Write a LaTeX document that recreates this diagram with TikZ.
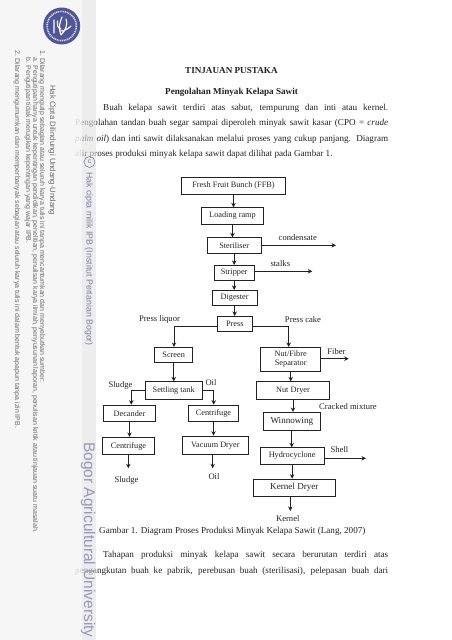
\documentclass[tikz,border=0pt]{standalone}
\usepackage{fontspec}
\setmainfont{Liberation Serif}
\setsansfont{Liberation Sans}
\usetikzlibrary{arrows.meta}
\definecolor{panel}{HTML}{F5F5F5}
\definecolor{band}{HTML}{E2E2E2}
\definecolor{wm}{HTML}{7F7FA5}
\definecolor{wmt}{HTML}{6A6A6A}
\definecolor{ink}{HTML}{222222}
\definecolor{logoc}{HTML}{4F5596}
\tikzset{
 x=1pt,y=-1pt,
 flow/.style={draw=ink,line width=.7pt,inner sep=0pt,text=ink,font=\fontsize{8.25}{9}\selectfont,align=center},
 big/.style={font=\fontsize{9.1}{10}\selectfont},
 lab/.style={inner sep=0pt,text=ink,font=\fontsize{8.6}{10}\selectfont},
 arr/.style={draw=ink,line width=.7pt,-{Stealth[length=4.5pt,width=4.5pt]}},
 body/.style={inner sep=0pt,anchor=base west,text=ink,font=\fontsize{9.13}{11}\selectfont},
 sidet/.style={inner sep=0pt,anchor=base west,rotate=-90,text=wmt,font=\sffamily\fontsize{7}{8}\selectfont},
}
\newcommand{\flowbox}[6][]{\node[flow,#1,minimum width=#4-#3,minimum height=#6-#5] (#2) at ({(#3+#4)/2},{(#5+#6)/2})}
\begin{document}
\begin{tikzpicture}
\useasboundingbox (0,0) rectangle (452,640);
\fill[white] (0,0) rectangle (452,640);
% body text
\node[body,font=\bfseries\fontsize{9.13}{11}\selectfont] (t1) at (185,73) {TINJAUAN PUSTAKA};
\node[body,font=\bfseries\fontsize{9.13}{11}\selectfont] (t2) at (165,94) {Pengolahan Minyak Kelapa Sawit};
\node[body] (l1) at (103,110) {\makebox[285pt][s]{Buah kelapa sawit terdiri atas sabut, tempurung dan inti atau kernel.}};
\node[body] (l2) at (75,125.5) {\makebox[313pt][s]{Pengolahan tandan buah segar sampai diperoleh minyak sawit kasar (CPO = \textit{crude}}};
\node[body] (l3) at (75,141) {\makebox[313pt][s]{\textit{palm oil}) dan inti sawit dilaksanakan melalui proses yang cukup panjang. Diagram}};
\node[body] (l4) at (75,156.5) {alir proses produksi minyak kelapa sawit dapat dilihat pada Gambar 1.};
\node[body] (cap) at (99,533) {Gambar 1. Diagram Proses Produksi Minyak Kelapa Sawit (Lang, 2007)};
\node[body] (l5) at (103,557) {\makebox[285pt][s]{Tahapan produksi minyak kelapa sawit secara berurutan terdiri atas}};
\node[body] (l6) at (75,573) {\makebox[313pt][s]{pengangkutan buah ke pabrik, perebusan buah (sterilisasi), pelepasan buah dari}};
% side panel
\fill[panel,opacity=.85] (0,0) rectangle (82,640);
\fill[band,opacity=.6] (82,0) rectangle (96,640);
% logo
\fill[logoc] (61.7,26) circle (18.5);
\draw[white!80!logoc,line width=1.6pt,dash pattern=on 1pt off .8pt] (61.7,26) circle (14.6);
\draw[white,line width=1.1pt,line cap=round] (54,33) -- (54,20) (61,35) .. controls (58,27) and (60,22) .. (62,17) (61,35) .. controls (66,30) and (68,24) .. (66,19) (61,31) .. controls (64,31) and (68,29) .. (71,26) (61,29) .. controls (57,28) and (57,24) .. (57.5,21);
% side text
\node[sidet,font=\sffamily\fontsize{7.8}{9}\selectfont] (s0) at (50,85) {Hak Cipta Dilindungi Undang-Undang};
\node[sidet] (s1) at (40,50) {1. Dilarang mengutip sebagian atau seluruh karya tulis ini tanpa mencantumkan dan menyebutkan sumber:};
\node[sidet] (s2) at (33,57) {a. Pengutipan hanya untuk kepentingan pendidikan, penelitian, penulisan karya ilmiah, penyusunan laporan, penulisan kritik atau tinjauan suatu masalah.};
\node[sidet] (s3) at (26,57) {b. Pengutipan tidak merugikan kepentingan yang wajar IPB.};
\node[sidet] (s4) at (15,50) {2. Dilarang mengumumkan dan memperbanyak sebagian atau seluruh karya tulis ini dalam bentuk apapun tanpa izin IPB.};
\node[draw=wm,circle,line width=.6pt,minimum size=11pt,inner sep=0pt,text=wm,font=\sffamily\fontsize{7}{8}\selectfont] (cc) at (89.5,162) {c};
\node[sidet,text=wm,font=\sffamily\fontsize{8.8}{10}\selectfont] (s5) at (86.5,172) {Hak cipta milik IPB (Institut Pertanian Bogor)};
\node[sidet,text=wm!80!white,font=\sffamily\fontsize{15.5}{17}\selectfont] (s6) at (84,442) {Bogor Agricultural University};
% boxes
\flowbox{ffb}{181.7}{285.3}{177.3}{194.3} {Fresh Fruit Bunch (FFB)};
\flowbox{load}{201.7}{263.3}{207.7}{224.3} {Loading ramp};
\flowbox{ster}{207.3}{261}{237.7}{253} {Steriliser};
\flowbox{strip}{214}{254.3}{265.3}{280.3} {Stripper};
\flowbox{dig}{212.3}{257}{290.3}{305.7} {Digester};
\flowbox{press}{217}{252.7}{316.3}{331.7} {Press};
\flowbox{screen}{154.7}{192.7}{347.3}{362.7} {Screen};
\flowbox{nut}{260.7}{320.7}{347.3}{371} {Nut/Fibre\\[-.5pt]Separator};
\flowbox{settle}{145.3}{202}{381.7}{399.3} {Settling tank};
\flowbox{nutd}{256.7}{329.3}{381.7}{399.3} {Nut Dryer};
\flowbox{dec}{103.7}{155.3}{405}{421.7} {Decander};
\flowbox{cenr}{188.3}{238.7}{405}{421.7} {Centrifuge};
\flowbox[big]{win}{263.3}{320.3}{412.3}{430.7} {Winnowing};
\flowbox{cenl}{102.3}{154.7}{437.3}{454.7} {Centrifuge};
\flowbox{vac}{182}{248.7}{436}{454.7} {Vacuum Dryer};
\flowbox{hyd}{260.3}{324}{447.7}{464.3} {Hydrocyclone};
\flowbox[big]{ker}{253.7}{335}{479}{496.3} {Kernel Dryer};
% labels
\node[lab] (lcond) at (297.8,237.7) {condensate};
\node[lab] (lstalk) at (280.3,264) {stalks};
\node[lab] (lliq) at (159.5,319) {Press liquor};
\node[lab] (lcake) at (303,320) {Press cake};
\node[lab] (lfib) at (336.5,352) {Fiber};
\node[lab] (lsl1) at (120.5,385.7) {Sludge};
\node[lab] (loil1) at (211,383) {Oil};
\node[lab] (lcrack) at (348,407) {Cracked mixture};
\node[lab] (lshell) at (339.5,450) {Shell};
\node[lab] (lsl2) at (126.5,480) {Sludge};
\node[lab] (loil2) at (214,476.7) {Oil};
\node[lab] (lker) at (287.8,519) {Kernel};
% free ends
\coordinate (econd) at (336,245.3);
\coordinate (estalk) at (312.3,271.3);
\coordinate (efib) at (348.7,358.7);
\coordinate (eshell) at (366,458.3);
\coordinate (esl) at (128.3,468.3);
\coordinate (eoil) at (212.7,468.3);
\coordinate (eker) at (290.3,511);
\coordinate (pl) at (174,326.7);
\coordinate (pr) at (288.7,326.7);
\coordinate (sl) at (131.3,390.3);
\coordinate (sr) at (213.7,390.3);
% connectors
\draw[arr] (ffb.south) -- (ffb.south |- load.north);
\draw[arr] (load.south) -- (load.south |- ster.north);
\draw[arr] (ster.south) -- (ster.south |- strip.north);
\draw[arr] (strip.south) -- (strip.south |- dig.north);
\draw[arr] (dig.south) -- (dig.south |- press.north);
\draw[arr] (ster.east |- econd) -- (econd);
\draw[arr] (strip.east |- estalk) -- (estalk);
\draw[arr] (press.west |- pl) -- (pl) -- (pl |- screen.north);
\draw[arr] (press.east |- pr) -- (pr) -- (pr |- nut.north);
\draw[arr] (screen.south) -- (screen.south |- settle.north);
\draw[arr] (settle.west |- sl) -- (sl) -- (sl |- dec.north);
\draw[arr] (settle.east |- sr) -- (sr) -- (sr |- cenr.north);
\draw[arr] (dec.south) -- (dec.south |- cenl.north);
\draw[arr] (cenr.south) -- (cenr.south |- vac.north);
\draw[arr] (esl |- cenl.south) -- (esl);
\draw[arr] (eoil |- vac.south) -- (eoil);
\draw[arr] (nut.east |- efib) -- (efib);
\draw[arr] (nut.south) -- (nut.south |- nutd.north);
\draw[arr] (nutd.south) -- (nutd.south |- win.north);
\draw[arr] (win.south) -- (win.south |- hyd.north);
\draw[arr] (hyd.south) -- (hyd.south |- ker.north);
\draw[arr] (hyd.east |- eshell) -- (eshell);
\draw[arr] (eker |- ker.south) -- (eker);
\end{tikzpicture}
\end{document}
